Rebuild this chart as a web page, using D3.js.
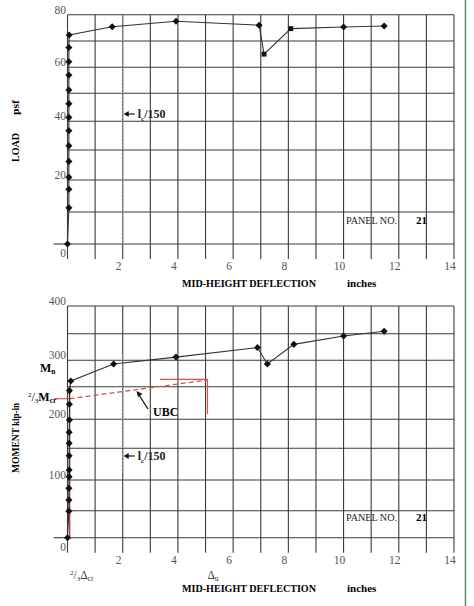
<!DOCTYPE html>
<html>
<head>
<meta charset="utf-8">
<script src="https://cdn.jsdelivr.net/npm/d3@7"></script>
<style>
  body { margin: 0; background: #fff; }
  svg { display: block; }
  text { font-family: "Liberation Serif", "DejaVu Serif", serif; }
</style>
</head>
<body>
<svg width="474" height="606" font-family="Liberation Serif, DejaVu Serif, serif"></svg>
<script>
// ---- data ----
// top chart: load (psf) vs mid-height deflection (in)
var loadDefl = [0, 0.05, 0.05, 0.05, 0.05, 0.05, 0.05, 0.05, 0.05, 0.05, 0.05, 0.05, 0.05, 0.06, 1.62, 3.93, 6.94, 7.12, 8.09, 10.0, 11.47];
var loadVals = [0, 11.3, 17.1, 20.9, 26.2, 31.5, 36.7, 41.4, 46.3, 51.3, 57.0, 62.1, 67.5, 72.3, 75.4, 77.5, 76.0, 65.0, 74.7, 75.3, 75.7];
var loadShape = ['d','d','d','d','d','d','d','d','d','d','d','d','d','d','d','d','d','s','s','d','d'];

// bottom chart: moment (kip-in) vs mid-height deflection (in)
var momDefl = [0, 0.05, 0.05, 0.05, 0.06, 0.06, 0.06, 0.06, 0.06, 0.07, 0.07, 0.07, 0.12, 1.67, 3.93, 6.88, 7.24, 8.2, 10.0, 11.47];
var momVals = [0, 49, 67.4, 86.5, 105, 115.8, 138.3, 158.6, 177.6, 199, 223, 244, 260.8, 293, 306, 324, 293, 330, 345.8, 354.4];

// UBC curve
var mcr23 = 231.6, dcr23 = 0.08, deltaU = 5.07;
var ubcCapX = [3.35, 5.07], ubcCapY = 264, ubcEndY = 208, ubcDashEndY = 262.7;
var lc150 = 2;

var xTicks = [2, 4, 6, 8, 10, 12, 14];
var loadTicks = [0, 20, 40, 60, 80];
var momTicks = [0, 100, 200, 300, 400];
var panelNo = '21';

// ---- layout ----
var svg = d3.select('svg');
var x = d3.scaleLinear().domain([0, 14]).range([67.5, 454]);
// scanned page is slightly stretched: grid rows are not evenly spaced
var yTop = d3.scaleLinear().domain([0, 10, 20, 30, 40, 50, 60, 70, 80])
  .range([244, 212, 180, 150, 121.3, 93.3, 67.3, 41, 14.7]);
var yBot = d3.scaleLinear().domain([0, 50, 100, 150, 200, 250, 300, 350, 400])
  .range([537.7, 510.7, 480, 448.3, 419.3, 386.7, 360.3, 333.7, 306]);

var gridColor = '#3a3a3a';
var diamond = d3.symbolDiamond2 || d3.symbolCircle;

function drawFrame(y, yMax, yStep, yLabels) {
  var g = svg.append('g');
  // horizontal grid
  g.selectAll('.hg').data(d3.range(0, yMax + 1, yStep)).enter().append('line')
    .attr('x1', x(0)).attr('x2', x(14))
    .attr('y1', d => y(d)).attr('y2', d => y(d))
    .attr('stroke', gridColor).attr('stroke-width', 1.1);
  // vertical grid + ticks below axis
  g.selectAll('.vg').data(d3.range(0, 15)).enter().append('line')
    .attr('x1', d => x(d)).attr('x2', d => x(d))
    .attr('y1', y(yMax)).attr('y2', y(0) + 15)
    .attr('stroke', gridColor).attr('stroke-width', 1.1);
  // tick at zero sticking out left
  g.append('line').attr('x1', x(0) - 14).attr('x2', x(0))
    .attr('y1', y(0)).attr('y2', y(0))
    .attr('stroke', gridColor).attr('stroke-width', 1.1);
  g.selectAll('.yl').data(yLabels).enter().append('text')
    .attr('x', 66).attr('y', d => d === 0 ? y(0) + 13 : y(d) - 1)
    .attr('text-anchor', 'end').attr('font-size', 11.5).attr('fill', '#555')
    .text(d => d);
  g.selectAll('.xl').data(xTicks).enter().append('text')
    .attr('x', d => x(d) - 4).attr('y', y(0) + 26)
    .attr('text-anchor', 'middle').attr('font-size', 11.5).attr('fill', '#555')
    .text(d => d);
  return g;
}

function axisTitle(yPos) {
  svg.append('text').attr('x', 182).attr('y', yPos)
    .attr('font-size', 11).attr('font-weight', 'bold')
    .attr('textLength', 134).attr('lengthAdjust', 'spacingAndGlyphs')
    .text('MID-HEIGHT DEFLECTION');
  svg.append('text').attr('x', 347).attr('y', yPos)
    .attr('font-size', 11).attr('font-weight', 'bold')
    .text('inches');
}

function yTitle(txt, cy, len) {
  svg.append('text').attr('transform', 'translate(19,' + cy + ') rotate(-90)')
    .attr('x', -len / 2)
    .attr('font-size', 10.5).attr('font-weight', 'bold')
    .attr('textLength', len).attr('lengthAdjust', 'spacingAndGlyphs')
    .text(txt);
}

function panelLabel(yPos) {
  svg.append('text').attr('x', 346).attr('y', yPos)
    .attr('font-size', 11).attr('fill', '#222')
    .attr('textLength', 51).attr('lengthAdjust', 'spacingAndGlyphs')
    .text('PANEL NO.');
  svg.append('text').attr('x', 416).attr('y', yPos)
    .attr('font-size', 11).attr('font-weight', 'bold')
    .text(panelNo);
}

function lcLabel(yPos) {
  var g = svg.append('g');
  g.append('line').attr('x1', x(lc150) + 12).attr('x2', x(lc150) + 4)
    .attr('y1', yPos).attr('y2', yPos).attr('stroke', '#111').attr('stroke-width', 1.2);
  g.append('path')
    .attr('d', 'M' + (x(lc150) + 1) + ',' + yPos + 'l5,-3l0,6z').attr('fill', '#111');
  var t = g.append('text').attr('x', x(lc150) + 15).attr('y', yPos + 4)
    .attr('font-size', 12).attr('font-weight', 'bold').attr('fill', '#222');
  t.append('tspan').text('l');
  t.append('tspan').attr('font-size', 7).attr('dy', 3).text('c');
  t.append('tspan').attr('dy', -3).text('/150');
}

function markers(g, xs, ys, y, shapes) {
  g.selectAll('.m').data(xs).enter().append('path')
    .attr('transform', (d, i) => 'translate(' + x(d) + ',' + y(ys[i]) + ')')
    .attr('d', (d, i) => (shapes && shapes[i] === 's')
      ? d3.symbol(d3.symbolSquare, 24)()
      : d3.symbol(diamond, 32)())
    .attr('fill', '#111');
}

// ---------- top chart ----------
drawFrame(yTop, 80, 10, loadTicks);
svg.append('line').attr('x1', x(lc150)).attr('x2', x(lc150))
  .attr('y1', yTop(80)).attr('y2', yTop(0))
  .attr('stroke', '#8d97b8').attr('stroke-width', 1.4).attr('stroke-dasharray', '2,1.5');
var gt = svg.append('g');
gt.append('path').datum(loadDefl)
  .attr('d', d3.line().x(d => x(d)).y((d, i) => yTop(loadVals[i])))
  .attr('fill', 'none').attr('stroke', '#333').attr('stroke-width', 1.1);
markers(gt, loadDefl, loadVals, yTop, loadShape);
lcLabel(114);
panelLabel(224);
axisTitle(287);
yTitle('LOAD', 147.5, 29);
yTitle('psf', 107.5, 15);

// ---------- bottom chart ----------
drawFrame(yBot, 400, 50, momTicks);
svg.append('line').attr('x1', x(lc150)).attr('x2', x(lc150))
  .attr('y1', 355).attr('y2', 473)
  .attr('stroke', '#8d97b8').attr('stroke-width', 1.4).attr('stroke-dasharray', '2,1.5');

var red = '#d9534f';
var gu = svg.append('g');
gu.append('line').attr('x1', x(0) - 13).attr('x2', x(dcr23))
  .attr('y1', yBot(mcr23)).attr('y2', yBot(mcr23))
  .attr('stroke', red).attr('stroke-width', 1.2);
gu.append('line').attr('x1', x(dcr23)).attr('x2', x(deltaU))
  .attr('y1', yBot(mcr23)).attr('y2', yBot(ubcDashEndY))
  .attr('stroke', red).attr('stroke-width', 1.3).attr('stroke-dasharray', '5,3');
gu.append('path')
  .datum([[ubcCapX[0], ubcCapY], [ubcCapX[1], ubcCapY], [deltaU, ubcEndY]])
  .attr('d', d3.line().x(d => x(d[0])).y(d => yBot(d[1])))
  .attr('fill', 'none').attr('stroke', red).attr('stroke-width', 1.2);

var gb = svg.append('g');
gb.append('path').datum(momDefl)
  .attr('d', d3.line().x(d => x(d)).y((d, i) => yBot(momVals[i])))
  .attr('fill', 'none').attr('stroke', '#333').attr('stroke-width', 1.1);
gu.append('line').attr('x1', x(dcr23)).attr('x2', x(dcr23))
  .attr('y1', yBot(0)).attr('y2', yBot(252))
  .attr('stroke', '#b03a3a').attr('stroke-width', 1.3);
markers(gb, momDefl, momVals, yBot, null);

lcLabel(456);
panelLabel(521);
axisTitle(592);
yTitle('MOMENT', 450.5, 45);
yTitle('kip-in', 414.5, 23);

// annotations
var mn = svg.append('text').attr('x', 40).attr('y', 372)
  .attr('font-size', 12).attr('font-weight', 'bold');
mn.append('tspan').text('M');
mn.append('tspan').attr('font-size', 7.5).attr('dy', 2).text('n');

var mc = svg.append('text').attr('x', 28).attr('y', 401)
  .attr('font-size', 12).attr('font-weight', 'bold');
mc.append('tspan').attr('font-size', 7).attr('dy', -4).attr('font-weight', 'normal').text('2');
mc.append('tspan').attr('dy', 4).attr('font-weight', 'normal').text('/');
mc.append('tspan').attr('font-size', 7).attr('dy', 2).attr('font-weight', 'normal').text('3');
mc.append('tspan').attr('dy', -2).text('M');
mc.append('tspan').attr('font-size', 7.5).attr('dy', 2).text('cr');

svg.append('text').attr('x', 153).attr('y', 416)
  .attr('font-size', 12).attr('font-weight', 'bold').text('UBC');
svg.append('line').attr('x1', 148).attr('y1', 409).attr('x2', 139).attr('y2', 395)
  .attr('stroke', '#111').attr('stroke-width', 1.3);
svg.append('path').attr('d', 'M136.5,391 l6,3 l-4.5,3z').attr('fill', '#111');

var dc = svg.append('text').attr('x', 70).attr('y', 579)
  .attr('font-size', 11.5).attr('fill', '#333');
dc.append('tspan').attr('font-size', 7).attr('dy', -4).text('2');
dc.append('tspan').attr('dy', 4).text('/');
dc.append('tspan').attr('font-size', 7).attr('dy', 2).text('3');
dc.append('tspan').attr('dy', -2).text('Δ');
dc.append('tspan').attr('font-size', 7.5).attr('dy', 2).text('cr');

var du = svg.append('text').attr('x', x(deltaU)).attr('y', 579)
  .attr('font-size', 11.5).attr('fill', '#333');
du.append('tspan').text('Δ');
du.append('tspan').attr('font-size', 7.5).attr('dy', 2).text('u');

// scan border on the right
svg.append('line').attr('x1', 465.5).attr('x2', 465.5).attr('y1', 0).attr('y2', 606)
  .attr('stroke', '#5f8f6a').attr('stroke-width', 1.6);
</script>
</body>
</html>
